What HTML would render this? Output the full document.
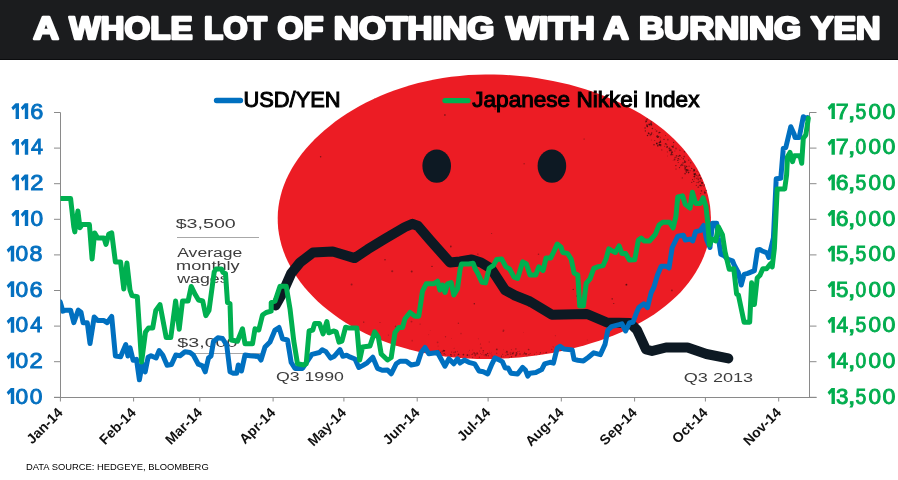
<!DOCTYPE html><html><head><meta charset="utf-8"><style>html,body{margin:0;padding:0;background:#fff;width:898px;height:480px;overflow:hidden}svg{display:block;will-change:transform}text{font-family:"Liberation Sans",sans-serif}</style></head><body>
<svg width="898" height="480" viewBox="0 0 898 480">
<rect x="0" y="0" width="898" height="480" fill="#fff"/>
<rect x="0" y="0" width="898" height="59" fill="#1b1c1e"/><rect x="0" y="59" width="898" height="1" fill="#0b0c0e"/>
<text x="33.32" y="38.9" font-size="31" font-weight="bold" fill="#fff" stroke="#fff" stroke-width="2.40" stroke-linejoin="round" textLength="25.62" lengthAdjust="spacingAndGlyphs">A</text>
<text x="69.27" y="38.9" font-size="31" font-weight="bold" fill="#fff" stroke="#fff" stroke-width="2.40" stroke-linejoin="round" textLength="123.33" lengthAdjust="spacingAndGlyphs">WHOLE</text>
<text x="204.10" y="38.9" font-size="31" font-weight="bold" fill="#fff" stroke="#fff" stroke-width="2.40" stroke-linejoin="round" textLength="62.74" lengthAdjust="spacingAndGlyphs">LOT</text>
<text x="277.55" y="38.9" font-size="31" font-weight="bold" fill="#fff" stroke="#fff" stroke-width="2.40" stroke-linejoin="round" textLength="45.86" lengthAdjust="spacingAndGlyphs">OF</text>
<text x="333.87" y="38.9" font-size="31" font-weight="bold" fill="#fff" stroke="#fff" stroke-width="2.40" stroke-linejoin="round" textLength="160.49" lengthAdjust="spacingAndGlyphs">NOTHING</text>
<text x="505.97" y="38.9" font-size="31" font-weight="bold" fill="#fff" stroke="#fff" stroke-width="2.40" stroke-linejoin="round" textLength="88.78" lengthAdjust="spacingAndGlyphs">WITH</text>
<text x="603.63" y="38.9" font-size="31" font-weight="bold" fill="#fff" stroke="#fff" stroke-width="2.40" stroke-linejoin="round" textLength="25.30" lengthAdjust="spacingAndGlyphs">A</text>
<text x="638.98" y="38.9" font-size="31" font-weight="bold" fill="#fff" stroke="#fff" stroke-width="2.40" stroke-linejoin="round" textLength="162.08" lengthAdjust="spacingAndGlyphs">BURNING</text>
<text x="810.82" y="38.9" font-size="31" font-weight="bold" fill="#fff" stroke="#fff" stroke-width="2.40" stroke-linejoin="round" textLength="69.77" lengthAdjust="spacingAndGlyphs">YEN</text>
<path d="M710.9 217.7 L710.9 223.2 L710.5 228.8 L709.8 234.4 L708.8 239.9 L707.5 245.4 L705.8 250.9 L703.8 256.4 L701.5 261.8 L698.8 267.1 L695.8 272.3 L692.4 277.5 L688.8 282.6 L684.7 287.5 L680.4 292.4 L675.7 297.1 L670.7 301.6 L665.4 306.1 L659.8 310.3 L654.0 314.4 L647.9 318.3 L641.5 322.1 L635.0 325.6 L628.2 329.0 L621.2 332.2 L614.1 335.2 L606.8 338.0 L599.3 340.7 L591.8 343.1 L584.1 345.4 L576.3 347.6 L568.4 349.5 L560.4 351.3 L552.3 352.9 L544.2 354.3 L536.0 355.5 L527.7 356.6 L519.3 357.4 L510.9 358.1 L502.5 358.6 L494.0 358.9 L485.6 359.0 L477.1 358.9 L468.6 358.5 L460.1 358.0 L451.6 357.2 L443.2 356.2 L434.9 354.9 L426.6 353.4 L418.4 351.7 L410.4 349.8 L402.5 347.6 L394.7 345.2 L387.1 342.6 L379.7 339.8 L372.4 336.7 L365.4 333.5 L358.6 330.1 L352.0 326.4 L345.7 322.7 L339.6 318.7 L333.8 314.6 L328.2 310.3 L322.9 305.9 L317.8 301.4 L313.1 296.8 L308.6 292.0 L304.4 287.2 L300.5 282.2 L296.8 277.1 L293.5 272.0 L290.5 266.8 L287.8 261.5 L285.4 256.2 L283.3 250.8 L281.5 245.3 L280.1 239.8 L279.0 234.3 L278.2 228.8 L277.8 223.2 L277.7 217.7 L277.9 212.1 L278.5 206.6 L279.4 201.1 L280.7 195.6 L282.2 190.1 L284.1 184.7 L286.3 179.3 L288.9 174.1 L291.7 168.8 L294.8 163.7 L298.3 158.6 L302.0 153.6 L305.9 148.8 L310.2 144.0 L314.7 139.3 L319.5 134.7 L324.5 130.2 L329.8 125.9 L335.3 121.6 L341.0 117.5 L347.0 113.6 L353.2 109.8 L359.6 106.1 L366.2 102.6 L373.1 99.2 L380.1 96.1 L387.4 93.1 L394.8 90.3 L402.4 87.7 L410.2 85.3 L418.2 83.1 L426.3 81.2 L434.5 79.5 L442.8 78.1 L451.2 76.8 L459.7 75.9 L468.3 75.1 L476.8 74.7 L485.4 74.4 L494.0 74.4 L502.6 74.7 L511.2 75.2 L519.7 75.9 L528.1 76.8 L536.5 78.0 L544.8 79.4 L553.0 80.9 L561.1 82.7 L569.1 84.6 L576.9 86.8 L584.6 89.1 L592.2 91.6 L599.7 94.3 L606.9 97.1 L614.1 100.2 L621.0 103.3 L627.8 106.7 L634.4 110.2 L640.7 113.8 L646.9 117.7 L652.8 121.6 L658.5 125.8 L664.0 130.0 L669.1 134.5 L674.0 139.0 L678.6 143.7 L683.0 148.5 L687.0 153.4 L690.7 158.4 L694.1 163.5 L697.2 168.6 L700.0 173.9 L702.5 179.2 L704.6 184.6 L706.4 190.0 L708.0 195.5 L709.2 201.0 L710.1 206.5 L710.6 212.1 Z" fill="#ec1c24"/>
<clipPath id="bc"><path d="M710.9 217.7 L710.9 223.2 L710.5 228.8 L709.8 234.4 L708.8 239.9 L707.5 245.4 L705.8 250.9 L703.8 256.4 L701.5 261.8 L698.8 267.1 L695.8 272.3 L692.4 277.5 L688.8 282.6 L684.7 287.5 L680.4 292.4 L675.7 297.1 L670.7 301.6 L665.4 306.1 L659.8 310.3 L654.0 314.4 L647.9 318.3 L641.5 322.1 L635.0 325.6 L628.2 329.0 L621.2 332.2 L614.1 335.2 L606.8 338.0 L599.3 340.7 L591.8 343.1 L584.1 345.4 L576.3 347.6 L568.4 349.5 L560.4 351.3 L552.3 352.9 L544.2 354.3 L536.0 355.5 L527.7 356.6 L519.3 357.4 L510.9 358.1 L502.5 358.6 L494.0 358.9 L485.6 359.0 L477.1 358.9 L468.6 358.5 L460.1 358.0 L451.6 357.2 L443.2 356.2 L434.9 354.9 L426.6 353.4 L418.4 351.7 L410.4 349.8 L402.5 347.6 L394.7 345.2 L387.1 342.6 L379.7 339.8 L372.4 336.7 L365.4 333.5 L358.6 330.1 L352.0 326.4 L345.7 322.7 L339.6 318.7 L333.8 314.6 L328.2 310.3 L322.9 305.9 L317.8 301.4 L313.1 296.8 L308.6 292.0 L304.4 287.2 L300.5 282.2 L296.8 277.1 L293.5 272.0 L290.5 266.8 L287.8 261.5 L285.4 256.2 L283.3 250.8 L281.5 245.3 L280.1 239.8 L279.0 234.3 L278.2 228.8 L277.8 223.2 L277.7 217.7 L277.9 212.1 L278.5 206.6 L279.4 201.1 L280.7 195.6 L282.2 190.1 L284.1 184.7 L286.3 179.3 L288.9 174.1 L291.7 168.8 L294.8 163.7 L298.3 158.6 L302.0 153.6 L305.9 148.8 L310.2 144.0 L314.7 139.3 L319.5 134.7 L324.5 130.2 L329.8 125.9 L335.3 121.6 L341.0 117.5 L347.0 113.6 L353.2 109.8 L359.6 106.1 L366.2 102.6 L373.1 99.2 L380.1 96.1 L387.4 93.1 L394.8 90.3 L402.4 87.7 L410.2 85.3 L418.2 83.1 L426.3 81.2 L434.5 79.5 L442.8 78.1 L451.2 76.8 L459.7 75.9 L468.3 75.1 L476.8 74.7 L485.4 74.4 L494.0 74.4 L502.6 74.7 L511.2 75.2 L519.7 75.9 L528.1 76.8 L536.5 78.0 L544.8 79.4 L553.0 80.9 L561.1 82.7 L569.1 84.6 L576.9 86.8 L584.6 89.1 L592.2 91.6 L599.7 94.3 L606.9 97.1 L614.1 100.2 L621.0 103.3 L627.8 106.7 L634.4 110.2 L640.7 113.8 L646.9 117.7 L652.8 121.6 L658.5 125.8 L664.0 130.0 L669.1 134.5 L674.0 139.0 L678.6 143.7 L683.0 148.5 L687.0 153.4 L690.7 158.4 L694.1 163.5 L697.2 168.6 L700.0 173.9 L702.5 179.2 L704.6 184.6 L706.4 190.0 L708.0 195.5 L709.2 201.0 L710.1 206.5 L710.6 212.1 Z"/></clipPath><g clip-path="url(#bc)"><circle cx="485.1" cy="355.9" r="0.39" fill="#1a0a0a" fill-opacity="0.44"/><circle cx="492.2" cy="356.6" r="0.38" fill="#1a0a0a" fill-opacity="0.43"/><circle cx="436.4" cy="352.3" r="0.40" fill="#1a0a0a" fill-opacity="0.40"/><circle cx="570.6" cy="352.2" r="0.42" fill="#1a0a0a" fill-opacity="0.33"/><circle cx="536.7" cy="356.0" r="0.57" fill="#1a0a0a" fill-opacity="0.59"/><circle cx="437.9" cy="352.2" r="0.82" fill="#1a0a0a" fill-opacity="0.35"/><circle cx="454.5" cy="355.0" r="0.80" fill="#1a0a0a" fill-opacity="0.31"/><circle cx="528.9" cy="354.8" r="0.70" fill="#1a0a0a" fill-opacity="0.38"/><circle cx="523.1" cy="354.3" r="0.46" fill="#1a0a0a" fill-opacity="0.49"/><circle cx="502.7" cy="354.2" r="0.52" fill="#1a0a0a" fill-opacity="0.45"/><circle cx="507.0" cy="352.7" r="0.73" fill="#1a0a0a" fill-opacity="0.34"/><circle cx="527.7" cy="357.3" r="0.64" fill="#1a0a0a" fill-opacity="0.56"/><circle cx="554.0" cy="351.2" r="0.41" fill="#1a0a0a" fill-opacity="0.40"/><circle cx="558.7" cy="358.4" r="0.43" fill="#1a0a0a" fill-opacity="0.42"/><circle cx="436.7" cy="351.2" r="0.67" fill="#1a0a0a" fill-opacity="0.56"/><circle cx="483.3" cy="350.7" r="0.73" fill="#1a0a0a" fill-opacity="0.46"/><circle cx="528.6" cy="349.5" r="0.87" fill="#1a0a0a" fill-opacity="0.42"/><circle cx="542.9" cy="354.2" r="0.38" fill="#1a0a0a" fill-opacity="0.50"/><circle cx="540.0" cy="357.3" r="0.51" fill="#1a0a0a" fill-opacity="0.39"/><circle cx="543.7" cy="352.9" r="0.36" fill="#1a0a0a" fill-opacity="0.41"/><circle cx="458.6" cy="354.2" r="0.77" fill="#1a0a0a" fill-opacity="0.30"/><circle cx="472.1" cy="354.4" r="0.57" fill="#1a0a0a" fill-opacity="0.55"/><circle cx="443.7" cy="350.7" r="0.84" fill="#1a0a0a" fill-opacity="0.54"/><circle cx="576.9" cy="352.4" r="0.50" fill="#1a0a0a" fill-opacity="0.40"/><circle cx="491.0" cy="358.1" r="0.43" fill="#1a0a0a" fill-opacity="0.31"/><circle cx="469.4" cy="350.2" r="0.48" fill="#1a0a0a" fill-opacity="0.42"/><circle cx="530.2" cy="353.5" r="0.58" fill="#1a0a0a" fill-opacity="0.38"/><circle cx="526.3" cy="353.8" r="0.87" fill="#1a0a0a" fill-opacity="0.49"/><circle cx="517.6" cy="351.3" r="0.38" fill="#1a0a0a" fill-opacity="0.56"/><circle cx="562.6" cy="350.0" r="0.83" fill="#1a0a0a" fill-opacity="0.53"/><circle cx="496.7" cy="353.2" r="0.70" fill="#1a0a0a" fill-opacity="0.27"/><circle cx="441.4" cy="353.8" r="0.46" fill="#1a0a0a" fill-opacity="0.31"/><circle cx="487.8" cy="354.0" r="0.43" fill="#1a0a0a" fill-opacity="0.29"/><circle cx="491.8" cy="354.0" r="0.36" fill="#1a0a0a" fill-opacity="0.56"/><circle cx="534.4" cy="354.3" r="0.54" fill="#1a0a0a" fill-opacity="0.38"/><circle cx="450.9" cy="354.8" r="0.82" fill="#1a0a0a" fill-opacity="0.60"/><circle cx="509.2" cy="353.0" r="0.41" fill="#1a0a0a" fill-opacity="0.37"/><circle cx="475.0" cy="354.0" r="0.81" fill="#1a0a0a" fill-opacity="0.31"/><circle cx="433.9" cy="355.5" r="0.43" fill="#1a0a0a" fill-opacity="0.44"/><circle cx="434.6" cy="352.2" r="0.64" fill="#1a0a0a" fill-opacity="0.59"/><circle cx="576.8" cy="350.9" r="0.55" fill="#1a0a0a" fill-opacity="0.31"/><circle cx="561.2" cy="350.7" r="0.64" fill="#1a0a0a" fill-opacity="0.52"/><circle cx="486.0" cy="354.7" r="0.89" fill="#1a0a0a" fill-opacity="0.55"/><circle cx="567.0" cy="356.0" r="0.80" fill="#1a0a0a" fill-opacity="0.51"/><circle cx="468.5" cy="351.8" r="0.37" fill="#1a0a0a" fill-opacity="0.26"/><circle cx="477.5" cy="353.7" r="0.49" fill="#1a0a0a" fill-opacity="0.49"/><circle cx="592.6" cy="345.6" r="0.89" fill="#1a0a0a" fill-opacity="0.58"/><circle cx="492.0" cy="355.7" r="0.47" fill="#1a0a0a" fill-opacity="0.33"/><circle cx="463.4" cy="354.6" r="0.85" fill="#1a0a0a" fill-opacity="0.54"/><circle cx="511.5" cy="356.8" r="0.71" fill="#1a0a0a" fill-opacity="0.53"/><circle cx="444.4" cy="350.7" r="0.78" fill="#1a0a0a" fill-opacity="0.51"/><circle cx="511.3" cy="349.8" r="0.45" fill="#1a0a0a" fill-opacity="0.53"/><circle cx="486.5" cy="355.8" r="0.57" fill="#1a0a0a" fill-opacity="0.39"/><circle cx="591.0" cy="345.1" r="0.75" fill="#1a0a0a" fill-opacity="0.31"/><circle cx="451.6" cy="356.3" r="0.79" fill="#1a0a0a" fill-opacity="0.30"/><circle cx="570.5" cy="355.7" r="0.89" fill="#1a0a0a" fill-opacity="0.48"/><circle cx="489.6" cy="352.9" r="0.36" fill="#1a0a0a" fill-opacity="0.59"/><circle cx="540.4" cy="352.8" r="0.64" fill="#1a0a0a" fill-opacity="0.58"/><circle cx="503.7" cy="356.8" r="0.47" fill="#1a0a0a" fill-opacity="0.34"/><circle cx="479.8" cy="351.0" r="0.48" fill="#1a0a0a" fill-opacity="0.46"/><circle cx="474.1" cy="352.9" r="0.85" fill="#1a0a0a" fill-opacity="0.37"/><circle cx="507.9" cy="354.5" r="0.67" fill="#1a0a0a" fill-opacity="0.57"/><circle cx="501.5" cy="356.2" r="0.64" fill="#1a0a0a" fill-opacity="0.43"/><circle cx="433.2" cy="351.6" r="0.59" fill="#1a0a0a" fill-opacity="0.31"/><circle cx="430.7" cy="353.2" r="0.61" fill="#1a0a0a" fill-opacity="0.50"/><circle cx="524.6" cy="352.3" r="0.53" fill="#1a0a0a" fill-opacity="0.43"/><circle cx="524.4" cy="353.8" r="0.66" fill="#1a0a0a" fill-opacity="0.34"/><circle cx="477.1" cy="352.9" r="0.77" fill="#1a0a0a" fill-opacity="0.43"/><circle cx="525.5" cy="353.9" r="0.59" fill="#1a0a0a" fill-opacity="0.46"/><circle cx="515.9" cy="348.9" r="0.63" fill="#1a0a0a" fill-opacity="0.49"/><circle cx="506.9" cy="351.5" r="0.87" fill="#1a0a0a" fill-opacity="0.49"/><circle cx="579.0" cy="350.9" r="0.87" fill="#1a0a0a" fill-opacity="0.34"/><circle cx="525.1" cy="357.5" r="0.43" fill="#1a0a0a" fill-opacity="0.29"/><circle cx="505.2" cy="352.5" r="0.39" fill="#1a0a0a" fill-opacity="0.33"/><circle cx="442.4" cy="351.4" r="0.84" fill="#1a0a0a" fill-opacity="0.30"/><circle cx="551.7" cy="349.4" r="0.71" fill="#1a0a0a" fill-opacity="0.30"/><circle cx="580.1" cy="352.8" r="0.87" fill="#1a0a0a" fill-opacity="0.39"/><circle cx="512.8" cy="353.5" r="0.89" fill="#1a0a0a" fill-opacity="0.54"/><circle cx="457.4" cy="351.2" r="0.54" fill="#1a0a0a" fill-opacity="0.32"/><circle cx="484.1" cy="355.1" r="0.75" fill="#1a0a0a" fill-opacity="0.26"/><circle cx="524.2" cy="353.2" r="0.53" fill="#1a0a0a" fill-opacity="0.47"/><circle cx="517.1" cy="353.9" r="0.39" fill="#1a0a0a" fill-opacity="0.59"/><circle cx="564.0" cy="353.2" r="0.50" fill="#1a0a0a" fill-opacity="0.26"/><circle cx="562.4" cy="352.1" r="0.50" fill="#1a0a0a" fill-opacity="0.30"/><circle cx="501.8" cy="357.4" r="0.49" fill="#1a0a0a" fill-opacity="0.30"/><circle cx="586.3" cy="348.8" r="0.66" fill="#1a0a0a" fill-opacity="0.50"/><circle cx="445.2" cy="356.5" r="0.58" fill="#1a0a0a" fill-opacity="0.28"/><circle cx="589.5" cy="351.9" r="0.70" fill="#1a0a0a" fill-opacity="0.53"/><circle cx="444.2" cy="353.8" r="0.82" fill="#1a0a0a" fill-opacity="0.41"/><circle cx="487.7" cy="353.4" r="0.65" fill="#1a0a0a" fill-opacity="0.57"/><circle cx="475.5" cy="355.8" r="0.48" fill="#1a0a0a" fill-opacity="0.29"/><circle cx="457.4" cy="355.6" r="0.38" fill="#1a0a0a" fill-opacity="0.32"/><circle cx="483.0" cy="352.7" r="0.51" fill="#1a0a0a" fill-opacity="0.43"/><circle cx="460.2" cy="357.2" r="0.54" fill="#1a0a0a" fill-opacity="0.26"/><circle cx="472.6" cy="357.5" r="0.65" fill="#1a0a0a" fill-opacity="0.32"/><circle cx="510.7" cy="354.2" r="0.86" fill="#1a0a0a" fill-opacity="0.29"/><circle cx="569.2" cy="349.6" r="0.81" fill="#1a0a0a" fill-opacity="0.39"/><circle cx="516.1" cy="354.8" r="0.73" fill="#1a0a0a" fill-opacity="0.59"/><circle cx="488.3" cy="355.7" r="0.70" fill="#1a0a0a" fill-opacity="0.39"/><circle cx="489.1" cy="351.0" r="0.38" fill="#1a0a0a" fill-opacity="0.30"/><circle cx="442.0" cy="353.1" r="0.44" fill="#1a0a0a" fill-opacity="0.28"/><circle cx="573.0" cy="350.0" r="0.83" fill="#1a0a0a" fill-opacity="0.48"/><circle cx="477.9" cy="354.0" r="0.60" fill="#1a0a0a" fill-opacity="0.31"/><circle cx="505.8" cy="355.7" r="0.49" fill="#1a0a0a" fill-opacity="0.59"/><circle cx="595.3" cy="348.8" r="0.88" fill="#1a0a0a" fill-opacity="0.36"/><circle cx="490.6" cy="353.5" r="0.35" fill="#1a0a0a" fill-opacity="0.38"/><circle cx="510.7" cy="352.4" r="0.63" fill="#1a0a0a" fill-opacity="0.25"/><circle cx="474.9" cy="353.9" r="0.40" fill="#1a0a0a" fill-opacity="0.39"/><circle cx="437.1" cy="354.9" r="0.48" fill="#1a0a0a" fill-opacity="0.45"/><circle cx="520.0" cy="354.0" r="0.76" fill="#1a0a0a" fill-opacity="0.48"/><circle cx="551.7" cy="354.3" r="0.53" fill="#1a0a0a" fill-opacity="0.59"/><circle cx="455.4" cy="352.1" r="0.75" fill="#1a0a0a" fill-opacity="0.48"/><circle cx="437.4" cy="355.5" r="0.70" fill="#1a0a0a" fill-opacity="0.51"/><circle cx="568.1" cy="348.0" r="0.43" fill="#1a0a0a" fill-opacity="0.43"/><circle cx="515.7" cy="355.8" r="0.80" fill="#1a0a0a" fill-opacity="0.45"/><circle cx="581.8" cy="347.8" r="0.73" fill="#1a0a0a" fill-opacity="0.49"/><circle cx="469.1" cy="355.0" r="0.55" fill="#1a0a0a" fill-opacity="0.29"/><circle cx="572.1" cy="352.0" r="0.66" fill="#1a0a0a" fill-opacity="0.47"/><circle cx="536.5" cy="352.2" r="0.35" fill="#1a0a0a" fill-opacity="0.53"/><circle cx="557.2" cy="350.2" r="0.63" fill="#1a0a0a" fill-opacity="0.44"/><circle cx="542.1" cy="356.4" r="0.49" fill="#1a0a0a" fill-opacity="0.28"/><circle cx="475.1" cy="355.4" r="0.75" fill="#1a0a0a" fill-opacity="0.32"/><circle cx="555.8" cy="355.1" r="0.56" fill="#1a0a0a" fill-opacity="0.42"/><circle cx="546.2" cy="352.6" r="0.77" fill="#1a0a0a" fill-opacity="0.47"/><circle cx="539.3" cy="354.3" r="0.49" fill="#1a0a0a" fill-opacity="0.51"/><circle cx="481.8" cy="354.6" r="0.66" fill="#1a0a0a" fill-opacity="0.25"/><circle cx="440.3" cy="352.8" r="0.73" fill="#1a0a0a" fill-opacity="0.49"/><circle cx="479.4" cy="357.2" r="0.63" fill="#1a0a0a" fill-opacity="0.41"/><circle cx="509.3" cy="357.3" r="0.46" fill="#1a0a0a" fill-opacity="0.59"/><circle cx="589.2" cy="353.9" r="0.36" fill="#1a0a0a" fill-opacity="0.41"/><circle cx="569.4" cy="354.3" r="0.50" fill="#1a0a0a" fill-opacity="0.32"/><circle cx="590.7" cy="350.2" r="0.47" fill="#1a0a0a" fill-opacity="0.45"/><circle cx="454.1" cy="348.2" r="0.42" fill="#1a0a0a" fill-opacity="0.54"/><circle cx="516.5" cy="352.9" r="0.84" fill="#1a0a0a" fill-opacity="0.50"/><circle cx="469.3" cy="355.9" r="0.36" fill="#1a0a0a" fill-opacity="0.25"/><circle cx="513.6" cy="352.3" r="0.60" fill="#1a0a0a" fill-opacity="0.36"/><circle cx="453.9" cy="352.5" r="0.81" fill="#1a0a0a" fill-opacity="0.25"/><circle cx="557.6" cy="354.1" r="0.81" fill="#1a0a0a" fill-opacity="0.29"/><circle cx="587.5" cy="349.8" r="0.51" fill="#1a0a0a" fill-opacity="0.38"/><circle cx="496.8" cy="349.4" r="0.90" fill="#1a0a0a" fill-opacity="0.46"/><circle cx="491.3" cy="352.4" r="0.38" fill="#1a0a0a" fill-opacity="0.29"/><circle cx="571.9" cy="352.6" r="0.51" fill="#1a0a0a" fill-opacity="0.58"/><circle cx="472.4" cy="353.6" r="0.45" fill="#1a0a0a" fill-opacity="0.38"/><circle cx="592.5" cy="353.1" r="0.84" fill="#1a0a0a" fill-opacity="0.53"/><circle cx="537.3" cy="357.7" r="0.65" fill="#1a0a0a" fill-opacity="0.50"/><circle cx="438.4" cy="350.4" r="0.75" fill="#1a0a0a" fill-opacity="0.41"/><circle cx="558.0" cy="351.4" r="0.38" fill="#1a0a0a" fill-opacity="0.57"/><circle cx="451.6" cy="352.1" r="0.61" fill="#1a0a0a" fill-opacity="0.37"/><circle cx="480.6" cy="353.6" r="0.49" fill="#1a0a0a" fill-opacity="0.48"/><circle cx="481.1" cy="348.0" r="0.66" fill="#1a0a0a" fill-opacity="0.39"/><circle cx="458.4" cy="354.5" r="0.85" fill="#1a0a0a" fill-opacity="0.42"/><circle cx="467.4" cy="355.1" r="0.85" fill="#1a0a0a" fill-opacity="0.60"/><circle cx="506.5" cy="354.8" r="0.40" fill="#1a0a0a" fill-opacity="0.37"/><circle cx="445.5" cy="354.5" r="0.48" fill="#1a0a0a" fill-opacity="0.34"/><circle cx="526.8" cy="356.3" r="0.58" fill="#1a0a0a" fill-opacity="0.39"/><circle cx="519.1" cy="351.3" r="0.56" fill="#1a0a0a" fill-opacity="0.37"/><circle cx="440.6" cy="352.2" r="0.42" fill="#1a0a0a" fill-opacity="0.43"/><circle cx="537.0" cy="358.9" r="0.82" fill="#1a0a0a" fill-opacity="0.33"/><circle cx="476.1" cy="354.0" r="0.60" fill="#1a0a0a" fill-opacity="0.58"/><circle cx="574.3" cy="353.9" r="0.83" fill="#1a0a0a" fill-opacity="0.26"/><circle cx="388.4" cy="335.1" r="0.61" fill="#1a0a0a" fill-opacity="0.27"/><circle cx="380.0" cy="322.5" r="0.57" fill="#1a0a0a" fill-opacity="0.34"/><circle cx="594.7" cy="353.4" r="0.49" fill="#1a0a0a" fill-opacity="0.17"/><circle cx="420.1" cy="324.1" r="0.64" fill="#1a0a0a" fill-opacity="0.29"/><circle cx="624.8" cy="336.7" r="0.77" fill="#1a0a0a" fill-opacity="0.24"/><circle cx="523.4" cy="332.5" r="0.37" fill="#1a0a0a" fill-opacity="0.31"/><circle cx="440.5" cy="352.1" r="0.52" fill="#1a0a0a" fill-opacity="0.18"/><circle cx="445.5" cy="336.7" r="0.70" fill="#1a0a0a" fill-opacity="0.29"/><circle cx="409.2" cy="349.3" r="0.67" fill="#1a0a0a" fill-opacity="0.23"/><circle cx="438.1" cy="346.1" r="0.68" fill="#1a0a0a" fill-opacity="0.15"/><circle cx="458.4" cy="323.3" r="0.70" fill="#1a0a0a" fill-opacity="0.33"/><circle cx="503.6" cy="349.8" r="0.48" fill="#1a0a0a" fill-opacity="0.20"/><circle cx="629.8" cy="336.6" r="0.36" fill="#1a0a0a" fill-opacity="0.25"/><circle cx="555.4" cy="335.7" r="0.58" fill="#1a0a0a" fill-opacity="0.20"/><circle cx="553.5" cy="347.4" r="0.37" fill="#1a0a0a" fill-opacity="0.22"/><circle cx="489.3" cy="341.9" r="0.73" fill="#1a0a0a" fill-opacity="0.19"/><circle cx="587.2" cy="340.0" r="0.46" fill="#1a0a0a" fill-opacity="0.34"/><circle cx="461.0" cy="333.6" r="0.80" fill="#1a0a0a" fill-opacity="0.20"/><circle cx="437.6" cy="342.3" r="0.87" fill="#1a0a0a" fill-opacity="0.25"/><circle cx="428.7" cy="334.8" r="0.47" fill="#1a0a0a" fill-opacity="0.23"/><circle cx="553.0" cy="346.6" r="0.57" fill="#1a0a0a" fill-opacity="0.19"/><circle cx="633.3" cy="336.9" r="0.43" fill="#1a0a0a" fill-opacity="0.16"/><circle cx="395.6" cy="326.4" r="0.84" fill="#1a0a0a" fill-opacity="0.30"/><circle cx="639.4" cy="348.7" r="0.86" fill="#1a0a0a" fill-opacity="0.22"/><circle cx="428.2" cy="353.6" r="0.37" fill="#1a0a0a" fill-opacity="0.28"/><circle cx="478.4" cy="338.7" r="0.56" fill="#1a0a0a" fill-opacity="0.22"/><circle cx="424.0" cy="347.7" r="0.54" fill="#1a0a0a" fill-opacity="0.34"/><circle cx="412.2" cy="340.7" r="0.88" fill="#1a0a0a" fill-opacity="0.19"/><circle cx="472.7" cy="350.1" r="0.59" fill="#1a0a0a" fill-opacity="0.16"/><circle cx="503.1" cy="331.5" r="0.55" fill="#1a0a0a" fill-opacity="0.33"/><circle cx="430.2" cy="330.3" r="0.37" fill="#1a0a0a" fill-opacity="0.23"/><circle cx="591.1" cy="353.3" r="0.77" fill="#1a0a0a" fill-opacity="0.16"/><circle cx="389.1" cy="356.1" r="0.49" fill="#1a0a0a" fill-opacity="0.30"/><circle cx="613.6" cy="346.2" r="0.54" fill="#1a0a0a" fill-opacity="0.20"/><circle cx="629.0" cy="333.9" r="0.74" fill="#1a0a0a" fill-opacity="0.21"/><circle cx="451.7" cy="338.4" r="0.35" fill="#1a0a0a" fill-opacity="0.30"/><circle cx="618.3" cy="326.3" r="0.36" fill="#1a0a0a" fill-opacity="0.20"/><circle cx="503.5" cy="330.5" r="0.88" fill="#1a0a0a" fill-opacity="0.34"/><circle cx="480.5" cy="344.0" r="0.62" fill="#1a0a0a" fill-opacity="0.34"/><circle cx="427.6" cy="349.9" r="0.79" fill="#1a0a0a" fill-opacity="0.30"/><circle cx="696.8" cy="178.0" r="0.60" fill="#1a0a0a" fill-opacity="0.43"/><circle cx="667.8" cy="139.7" r="0.87" fill="#1a0a0a" fill-opacity="0.33"/><circle cx="657.4" cy="137.5" r="0.44" fill="#1a0a0a" fill-opacity="0.31"/><circle cx="679.8" cy="155.3" r="0.60" fill="#1a0a0a" fill-opacity="0.69"/><circle cx="700.7" cy="185.4" r="0.45" fill="#1a0a0a" fill-opacity="0.34"/><circle cx="676.4" cy="156.0" r="0.83" fill="#1a0a0a" fill-opacity="0.48"/><circle cx="659.8" cy="132.5" r="0.80" fill="#1a0a0a" fill-opacity="0.60"/><circle cx="698.4" cy="182.5" r="0.80" fill="#1a0a0a" fill-opacity="0.35"/><circle cx="698.0" cy="175.9" r="0.62" fill="#1a0a0a" fill-opacity="0.60"/><circle cx="657.5" cy="145.0" r="0.55" fill="#1a0a0a" fill-opacity="0.40"/><circle cx="654.7" cy="140.5" r="0.60" fill="#1a0a0a" fill-opacity="0.46"/><circle cx="707.5" cy="182.3" r="0.70" fill="#1a0a0a" fill-opacity="0.39"/><circle cx="695.9" cy="165.4" r="0.46" fill="#1a0a0a" fill-opacity="0.49"/><circle cx="696.6" cy="161.5" r="0.90" fill="#1a0a0a" fill-opacity="0.67"/><circle cx="647.5" cy="126.7" r="0.51" fill="#1a0a0a" fill-opacity="0.69"/><circle cx="681.7" cy="164.7" r="0.96" fill="#1a0a0a" fill-opacity="0.45"/><circle cx="699.6" cy="175.1" r="0.87" fill="#1a0a0a" fill-opacity="0.68"/><circle cx="651.7" cy="133.1" r="0.76" fill="#1a0a0a" fill-opacity="0.55"/><circle cx="658.7" cy="136.5" r="0.52" fill="#1a0a0a" fill-opacity="0.40"/><circle cx="682.8" cy="165.2" r="0.79" fill="#1a0a0a" fill-opacity="0.38"/><circle cx="645.7" cy="121.5" r="0.51" fill="#1a0a0a" fill-opacity="0.42"/><circle cx="657.8" cy="145.8" r="0.88" fill="#1a0a0a" fill-opacity="0.52"/><circle cx="649.0" cy="133.8" r="0.73" fill="#1a0a0a" fill-opacity="0.56"/><circle cx="650.7" cy="134.3" r="0.50" fill="#1a0a0a" fill-opacity="0.58"/><circle cx="670.8" cy="149.7" r="0.97" fill="#1a0a0a" fill-opacity="0.42"/><circle cx="680.7" cy="165.7" r="0.61" fill="#1a0a0a" fill-opacity="0.47"/><circle cx="699.4" cy="185.2" r="0.52" fill="#1a0a0a" fill-opacity="0.59"/><circle cx="657.8" cy="137.7" r="0.40" fill="#1a0a0a" fill-opacity="0.66"/><circle cx="671.7" cy="154.3" r="0.93" fill="#1a0a0a" fill-opacity="0.48"/><circle cx="655.2" cy="129.7" r="0.41" fill="#1a0a0a" fill-opacity="0.52"/><circle cx="685.4" cy="167.5" r="0.77" fill="#1a0a0a" fill-opacity="0.45"/><circle cx="676.8" cy="155.4" r="0.49" fill="#1a0a0a" fill-opacity="0.41"/><circle cx="677.8" cy="160.4" r="0.69" fill="#1a0a0a" fill-opacity="0.62"/><circle cx="705.9" cy="184.6" r="0.52" fill="#1a0a0a" fill-opacity="0.35"/><circle cx="704.4" cy="191.2" r="0.43" fill="#1a0a0a" fill-opacity="0.67"/><circle cx="669.4" cy="148.4" r="0.94" fill="#1a0a0a" fill-opacity="0.55"/><circle cx="696.9" cy="182.6" r="0.53" fill="#1a0a0a" fill-opacity="0.46"/><circle cx="698.3" cy="187.2" r="0.90" fill="#1a0a0a" fill-opacity="0.37"/><circle cx="658.7" cy="132.9" r="0.63" fill="#1a0a0a" fill-opacity="0.35"/><circle cx="660.6" cy="144.8" r="0.83" fill="#1a0a0a" fill-opacity="0.66"/><circle cx="647.6" cy="118.3" r="0.42" fill="#1a0a0a" fill-opacity="0.64"/><circle cx="652.4" cy="128.6" r="0.76" fill="#1a0a0a" fill-opacity="0.52"/><circle cx="684.5" cy="162.3" r="0.75" fill="#1a0a0a" fill-opacity="0.47"/><circle cx="686.5" cy="172.4" r="0.67" fill="#1a0a0a" fill-opacity="0.48"/><circle cx="646.5" cy="121.4" r="0.54" fill="#1a0a0a" fill-opacity="0.61"/><circle cx="694.1" cy="169.4" r="0.67" fill="#1a0a0a" fill-opacity="0.37"/><circle cx="674.8" cy="157.3" r="0.66" fill="#1a0a0a" fill-opacity="0.34"/><circle cx="672.8" cy="154.8" r="0.71" fill="#1a0a0a" fill-opacity="0.32"/><circle cx="685.1" cy="173.6" r="0.87" fill="#1a0a0a" fill-opacity="0.50"/><circle cx="648.4" cy="133.2" r="0.70" fill="#1a0a0a" fill-opacity="0.45"/><circle cx="704.9" cy="192.7" r="1.00" fill="#1a0a0a" fill-opacity="0.59"/><circle cx="696.3" cy="185.3" r="0.52" fill="#1a0a0a" fill-opacity="0.69"/><circle cx="676.0" cy="168.9" r="0.50" fill="#1a0a0a" fill-opacity="0.62"/><circle cx="703.6" cy="180.0" r="0.44" fill="#1a0a0a" fill-opacity="0.44"/><circle cx="692.6" cy="179.6" r="0.56" fill="#1a0a0a" fill-opacity="0.63"/><circle cx="654.0" cy="144.8" r="0.70" fill="#1a0a0a" fill-opacity="0.67"/><circle cx="658.1" cy="137.5" r="0.59" fill="#1a0a0a" fill-opacity="0.31"/><circle cx="656.5" cy="143.6" r="0.50" fill="#1a0a0a" fill-opacity="0.67"/><circle cx="687.8" cy="170.7" r="0.87" fill="#1a0a0a" fill-opacity="0.35"/><circle cx="678.4" cy="156.2" r="0.78" fill="#1a0a0a" fill-opacity="0.44"/><circle cx="700.0" cy="172.6" r="0.93" fill="#1a0a0a" fill-opacity="0.34"/><circle cx="707.6" cy="184.9" r="0.78" fill="#1a0a0a" fill-opacity="0.46"/><circle cx="695.3" cy="173.6" r="0.75" fill="#1a0a0a" fill-opacity="0.44"/><circle cx="693.2" cy="191.4" r="0.67" fill="#1a0a0a" fill-opacity="0.37"/><circle cx="691.8" cy="182.4" r="0.55" fill="#1a0a0a" fill-opacity="0.56"/><circle cx="707.0" cy="190.3" r="0.75" fill="#1a0a0a" fill-opacity="0.57"/><circle cx="664.7" cy="146.3" r="0.49" fill="#1a0a0a" fill-opacity="0.55"/><circle cx="672.2" cy="152.2" r="0.71" fill="#1a0a0a" fill-opacity="0.66"/><circle cx="653.3" cy="134.6" r="0.41" fill="#1a0a0a" fill-opacity="0.30"/><circle cx="667.4" cy="156.0" r="0.46" fill="#1a0a0a" fill-opacity="0.44"/><circle cx="659.1" cy="132.2" r="0.52" fill="#1a0a0a" fill-opacity="0.55"/><circle cx="674.9" cy="150.9" r="0.48" fill="#1a0a0a" fill-opacity="0.67"/><circle cx="660.3" cy="141.9" r="0.78" fill="#1a0a0a" fill-opacity="0.65"/><circle cx="694.3" cy="176.4" r="0.64" fill="#1a0a0a" fill-opacity="0.41"/><circle cx="645.7" cy="121.0" r="0.61" fill="#1a0a0a" fill-opacity="0.56"/><circle cx="673.0" cy="146.9" r="0.96" fill="#1a0a0a" fill-opacity="0.59"/><circle cx="660.7" cy="142.1" r="0.72" fill="#1a0a0a" fill-opacity="0.46"/><circle cx="660.0" cy="138.9" r="0.44" fill="#1a0a0a" fill-opacity="0.61"/><circle cx="645.8" cy="112.2" r="0.49" fill="#1a0a0a" fill-opacity="0.38"/><circle cx="683.3" cy="158.8" r="0.70" fill="#1a0a0a" fill-opacity="0.56"/><circle cx="696.2" cy="178.6" r="0.58" fill="#1a0a0a" fill-opacity="0.32"/><circle cx="701.0" cy="185.6" r="0.87" fill="#1a0a0a" fill-opacity="0.59"/><circle cx="645.4" cy="130.9" r="0.68" fill="#1a0a0a" fill-opacity="0.60"/><circle cx="673.5" cy="145.3" r="0.54" fill="#1a0a0a" fill-opacity="0.34"/><circle cx="659.6" cy="144.9" r="0.85" fill="#1a0a0a" fill-opacity="0.58"/><circle cx="698.3" cy="179.6" r="0.83" fill="#1a0a0a" fill-opacity="0.41"/><circle cx="679.9" cy="150.2" r="0.71" fill="#1a0a0a" fill-opacity="0.41"/><circle cx="685.4" cy="169.6" r="0.98" fill="#1a0a0a" fill-opacity="0.39"/><circle cx="700.4" cy="185.1" r="0.54" fill="#1a0a0a" fill-opacity="0.60"/><circle cx="704.5" cy="185.0" r="0.85" fill="#1a0a0a" fill-opacity="0.43"/><circle cx="700.5" cy="178.3" r="0.94" fill="#1a0a0a" fill-opacity="0.55"/><circle cx="688.6" cy="172.6" r="0.80" fill="#1a0a0a" fill-opacity="0.69"/><circle cx="674.6" cy="159.5" r="0.91" fill="#1a0a0a" fill-opacity="0.47"/><circle cx="690.7" cy="162.8" r="0.74" fill="#1a0a0a" fill-opacity="0.42"/><circle cx="658.4" cy="136.6" r="0.95" fill="#1a0a0a" fill-opacity="0.36"/><circle cx="646.7" cy="125.0" r="0.46" fill="#1a0a0a" fill-opacity="0.67"/><circle cx="666.7" cy="147.6" r="0.42" fill="#1a0a0a" fill-opacity="0.58"/><circle cx="684.9" cy="166.1" r="0.82" fill="#1a0a0a" fill-opacity="0.59"/><circle cx="649.1" cy="124.3" r="0.89" fill="#1a0a0a" fill-opacity="0.63"/><circle cx="701.2" cy="178.1" r="0.44" fill="#1a0a0a" fill-opacity="0.65"/><circle cx="702.6" cy="185.3" r="0.52" fill="#1a0a0a" fill-opacity="0.34"/><circle cx="647.2" cy="126.2" r="0.91" fill="#1a0a0a" fill-opacity="0.62"/><circle cx="685.0" cy="168.8" r="0.57" fill="#1a0a0a" fill-opacity="0.34"/><circle cx="651.2" cy="123.6" r="0.85" fill="#1a0a0a" fill-opacity="0.38"/><circle cx="665.1" cy="144.0" r="0.55" fill="#1a0a0a" fill-opacity="0.41"/><circle cx="690.1" cy="170.7" r="0.62" fill="#1a0a0a" fill-opacity="0.43"/><circle cx="705.7" cy="174.0" r="0.77" fill="#1a0a0a" fill-opacity="0.31"/><circle cx="671.0" cy="150.7" r="0.66" fill="#1a0a0a" fill-opacity="0.61"/><circle cx="666.8" cy="144.8" r="0.53" fill="#1a0a0a" fill-opacity="0.64"/><circle cx="650.7" cy="123.6" r="0.89" fill="#1a0a0a" fill-opacity="0.37"/><circle cx="645.1" cy="128.1" r="0.99" fill="#1a0a0a" fill-opacity="0.30"/><circle cx="675.9" cy="165.6" r="0.69" fill="#1a0a0a" fill-opacity="0.62"/><circle cx="656.6" cy="131.1" r="0.90" fill="#1a0a0a" fill-opacity="0.40"/><circle cx="704.5" cy="184.7" r="0.57" fill="#1a0a0a" fill-opacity="0.39"/><circle cx="689.1" cy="166.2" r="0.78" fill="#1a0a0a" fill-opacity="0.33"/><circle cx="694.6" cy="174.7" r="0.82" fill="#1a0a0a" fill-opacity="0.61"/><circle cx="684.6" cy="160.8" r="0.64" fill="#1a0a0a" fill-opacity="0.66"/><circle cx="650.4" cy="135.2" r="0.93" fill="#1a0a0a" fill-opacity="0.31"/><circle cx="658.0" cy="136.9" r="0.70" fill="#1a0a0a" fill-opacity="0.45"/><circle cx="700.7" cy="193.6" r="0.54" fill="#1a0a0a" fill-opacity="0.48"/><circle cx="678.5" cy="158.8" r="0.79" fill="#1a0a0a" fill-opacity="0.44"/><circle cx="665.6" cy="135.5" r="0.49" fill="#1a0a0a" fill-opacity="0.64"/><circle cx="686.7" cy="166.5" r="0.66" fill="#1a0a0a" fill-opacity="0.61"/><circle cx="681.5" cy="157.8" r="0.48" fill="#1a0a0a" fill-opacity="0.48"/><circle cx="700.8" cy="181.1" r="0.58" fill="#1a0a0a" fill-opacity="0.58"/><circle cx="698.2" cy="182.1" r="0.49" fill="#1a0a0a" fill-opacity="0.36"/><circle cx="660.6" cy="137.2" r="0.50" fill="#1a0a0a" fill-opacity="0.43"/><circle cx="656.9" cy="143.4" r="0.99" fill="#1a0a0a" fill-opacity="0.59"/><circle cx="651.4" cy="134.1" r="0.63" fill="#1a0a0a" fill-opacity="0.69"/><circle cx="695.1" cy="174.4" r="0.84" fill="#1a0a0a" fill-opacity="0.47"/><circle cx="657.4" cy="135.5" r="0.52" fill="#1a0a0a" fill-opacity="0.46"/><circle cx="647.1" cy="125.0" r="0.64" fill="#1a0a0a" fill-opacity="0.62"/><circle cx="688.7" cy="160.2" r="0.68" fill="#1a0a0a" fill-opacity="0.36"/><circle cx="683.0" cy="163.0" r="0.64" fill="#1a0a0a" fill-opacity="0.60"/><circle cx="702.2" cy="175.1" r="0.85" fill="#1a0a0a" fill-opacity="0.47"/><circle cx="659.4" cy="142.7" r="0.83" fill="#1a0a0a" fill-opacity="0.65"/><circle cx="693.8" cy="170.1" r="0.81" fill="#1a0a0a" fill-opacity="0.56"/><circle cx="673.6" cy="142.4" r="0.59" fill="#1a0a0a" fill-opacity="0.55"/><circle cx="651.2" cy="122.0" r="0.83" fill="#1a0a0a" fill-opacity="0.55"/><circle cx="660.8" cy="145.8" r="0.65" fill="#1a0a0a" fill-opacity="0.48"/><circle cx="684.2" cy="156.6" r="0.96" fill="#1a0a0a" fill-opacity="0.37"/><circle cx="686.2" cy="171.1" r="0.87" fill="#1a0a0a" fill-opacity="0.46"/><circle cx="675.9" cy="157.5" r="0.73" fill="#1a0a0a" fill-opacity="0.36"/><circle cx="694.3" cy="174.0" r="0.96" fill="#1a0a0a" fill-opacity="0.51"/><circle cx="651.4" cy="124.7" r="0.83" fill="#1a0a0a" fill-opacity="0.50"/><circle cx="685.3" cy="161.9" r="0.90" fill="#1a0a0a" fill-opacity="0.51"/><circle cx="670.9" cy="154.8" r="0.81" fill="#1a0a0a" fill-opacity="0.46"/><circle cx="693.1" cy="171.7" r="0.47" fill="#1a0a0a" fill-opacity="0.69"/><circle cx="667.4" cy="151.9" r="0.64" fill="#1a0a0a" fill-opacity="0.31"/><circle cx="671.4" cy="153.0" r="0.65" fill="#1a0a0a" fill-opacity="0.58"/><circle cx="667.2" cy="146.8" r="0.84" fill="#1a0a0a" fill-opacity="0.68"/><circle cx="678.2" cy="162.5" r="0.53" fill="#1a0a0a" fill-opacity="0.62"/><circle cx="669.7" cy="150.4" r="0.87" fill="#1a0a0a" fill-opacity="0.62"/><circle cx="685.0" cy="168.0" r="0.68" fill="#1a0a0a" fill-opacity="0.52"/><circle cx="659.2" cy="144.7" r="0.78" fill="#1a0a0a" fill-opacity="0.63"/><circle cx="696.4" cy="175.2" r="0.68" fill="#1a0a0a" fill-opacity="0.42"/><circle cx="679.5" cy="167.6" r="0.61" fill="#1a0a0a" fill-opacity="0.64"/><circle cx="661.8" cy="149.9" r="0.63" fill="#1a0a0a" fill-opacity="0.40"/><circle cx="671.8" cy="152.0" r="0.83" fill="#1a0a0a" fill-opacity="0.41"/><circle cx="660.4" cy="140.8" r="0.58" fill="#1a0a0a" fill-opacity="0.49"/><circle cx="672.0" cy="146.3" r="0.62" fill="#1a0a0a" fill-opacity="0.67"/><circle cx="698.8" cy="172.1" r="0.43" fill="#1a0a0a" fill-opacity="0.63"/><circle cx="702.1" cy="182.8" r="0.90" fill="#1a0a0a" fill-opacity="0.55"/><circle cx="645.9" cy="122.7" r="0.41" fill="#1a0a0a" fill-opacity="0.68"/><circle cx="686.3" cy="166.3" r="0.49" fill="#1a0a0a" fill-opacity="0.39"/><circle cx="693.9" cy="176.7" r="0.61" fill="#1a0a0a" fill-opacity="0.36"/><circle cx="702.0" cy="182.9" r="0.93" fill="#1a0a0a" fill-opacity="0.54"/><circle cx="694.2" cy="170.7" r="0.80" fill="#1a0a0a" fill-opacity="0.66"/><circle cx="694.6" cy="176.8" r="0.82" fill="#1a0a0a" fill-opacity="0.51"/><circle cx="691.7" cy="168.4" r="0.66" fill="#1a0a0a" fill-opacity="0.65"/><circle cx="680.0" cy="159.6" r="0.48" fill="#1a0a0a" fill-opacity="0.50"/><circle cx="648.7" cy="133.0" r="0.68" fill="#1a0a0a" fill-opacity="0.36"/><circle cx="676.0" cy="148.5" r="0.92" fill="#1a0a0a" fill-opacity="0.30"/><circle cx="698.0" cy="178.1" r="0.68" fill="#1a0a0a" fill-opacity="0.53"/><circle cx="686.9" cy="170.0" r="0.65" fill="#1a0a0a" fill-opacity="0.68"/><circle cx="649.7" cy="124.8" r="0.78" fill="#1a0a0a" fill-opacity="0.55"/><circle cx="646.8" cy="119.8" r="0.96" fill="#1a0a0a" fill-opacity="0.43"/><circle cx="706.8" cy="181.1" r="0.71" fill="#1a0a0a" fill-opacity="0.49"/><circle cx="701.5" cy="190.9" r="0.78" fill="#1a0a0a" fill-opacity="0.44"/><circle cx="699.3" cy="181.3" r="0.62" fill="#1a0a0a" fill-opacity="0.49"/><circle cx="678.1" cy="158.6" r="0.66" fill="#1a0a0a" fill-opacity="0.47"/><circle cx="679.9" cy="155.8" r="0.90" fill="#1a0a0a" fill-opacity="0.42"/><circle cx="697.1" cy="171.3" r="0.56" fill="#1a0a0a" fill-opacity="0.50"/><circle cx="706.4" cy="190.5" r="0.79" fill="#1a0a0a" fill-opacity="0.62"/><circle cx="665.8" cy="143.8" r="0.75" fill="#1a0a0a" fill-opacity="0.55"/><circle cx="694.4" cy="179.0" r="0.42" fill="#1a0a0a" fill-opacity="0.59"/><circle cx="700.8" cy="179.0" r="0.58" fill="#1a0a0a" fill-opacity="0.30"/><circle cx="657.0" cy="136.4" r="0.95" fill="#1a0a0a" fill-opacity="0.54"/><circle cx="686.5" cy="169.7" r="0.77" fill="#1a0a0a" fill-opacity="0.55"/><circle cx="684.5" cy="151.7" r="0.82" fill="#1a0a0a" fill-opacity="0.54"/><circle cx="687.9" cy="170.0" r="0.67" fill="#1a0a0a" fill-opacity="0.61"/><circle cx="651.4" cy="140.0" r="0.51" fill="#1a0a0a" fill-opacity="0.31"/><circle cx="693.8" cy="181.3" r="0.62" fill="#1a0a0a" fill-opacity="0.63"/><circle cx="694.6" cy="170.0" r="0.74" fill="#1a0a0a" fill-opacity="0.40"/><circle cx="664.0" cy="139.4" r="0.66" fill="#1a0a0a" fill-opacity="0.56"/><circle cx="703.8" cy="186.3" r="0.43" fill="#1a0a0a" fill-opacity="0.53"/><circle cx="647.5" cy="135.5" r="0.75" fill="#1a0a0a" fill-opacity="0.67"/><circle cx="673.1" cy="160.6" r="0.41" fill="#1a0a0a" fill-opacity="0.45"/><circle cx="682.3" cy="177.9" r="0.69" fill="#1a0a0a" fill-opacity="0.46"/><circle cx="651.4" cy="125.0" r="0.79" fill="#1a0a0a" fill-opacity="0.38"/><circle cx="374.6" cy="98.6" r="0.50" fill="#1a0a0a" fill-opacity="0.57"/><circle cx="363.8" cy="322.1" r="0.55" fill="#1a0a0a" fill-opacity="0.65"/><circle cx="366.4" cy="99.2" r="0.93" fill="#1a0a0a" fill-opacity="0.40"/><circle cx="584.1" cy="139.0" r="0.53" fill="#1a0a0a" fill-opacity="0.61"/><circle cx="576.9" cy="296.0" r="0.94" fill="#1a0a0a" fill-opacity="0.33"/><circle cx="546.3" cy="261.7" r="0.78" fill="#1a0a0a" fill-opacity="0.67"/><circle cx="411.5" cy="321.6" r="0.93" fill="#1a0a0a" fill-opacity="0.30"/><circle cx="325.3" cy="247.9" r="0.99" fill="#1a0a0a" fill-opacity="0.33"/><circle cx="432.0" cy="266.4" r="0.60" fill="#1a0a0a" fill-opacity="0.64"/><circle cx="495.1" cy="109.0" r="0.72" fill="#1a0a0a" fill-opacity="0.53"/><circle cx="477.9" cy="254.1" r="0.59" fill="#1a0a0a" fill-opacity="0.62"/><circle cx="450.8" cy="246.5" r="0.88" fill="#1a0a0a" fill-opacity="0.47"/><circle cx="458.9" cy="279.8" r="1.07" fill="#1a0a0a" fill-opacity="0.61"/><circle cx="524.1" cy="163.7" r="0.54" fill="#1a0a0a" fill-opacity="0.69"/><circle cx="573.2" cy="289.4" r="0.70" fill="#1a0a0a" fill-opacity="0.54"/><circle cx="671.9" cy="290.4" r="0.86" fill="#1a0a0a" fill-opacity="0.42"/><circle cx="474.3" cy="303.7" r="0.73" fill="#1a0a0a" fill-opacity="0.57"/><circle cx="536.6" cy="305.6" r="0.98" fill="#1a0a0a" fill-opacity="0.41"/><circle cx="320.6" cy="156.8" r="0.75" fill="#1a0a0a" fill-opacity="0.53"/><circle cx="613.8" cy="303.5" r="0.53" fill="#1a0a0a" fill-opacity="0.63"/><circle cx="612.2" cy="298.8" r="0.84" fill="#1a0a0a" fill-opacity="0.41"/><circle cx="626.4" cy="284.7" r="0.91" fill="#1a0a0a" fill-opacity="0.67"/><circle cx="444.9" cy="115.0" r="0.83" fill="#1a0a0a" fill-opacity="0.62"/><circle cx="392.2" cy="271.3" r="1.06" fill="#1a0a0a" fill-opacity="0.39"/><circle cx="538.5" cy="254.3" r="0.78" fill="#1a0a0a" fill-opacity="0.38"/><circle cx="411.7" cy="271.5" r="0.97" fill="#1a0a0a" fill-opacity="0.48"/><circle cx="351.6" cy="284.5" r="0.96" fill="#1a0a0a" fill-opacity="0.39"/><circle cx="528.7" cy="305.8" r="1.03" fill="#1a0a0a" fill-opacity="0.51"/><circle cx="491.6" cy="233.5" r="0.61" fill="#1a0a0a" fill-opacity="0.38"/><circle cx="385.0" cy="259.8" r="0.72" fill="#1a0a0a" fill-opacity="0.53"/></g>
<ellipse cx="436.7" cy="166.1" rx="14.3" ry="16.7" fill="#0d1923"/>
<ellipse cx="551.9" cy="166.1" rx="14.3" ry="16.7" fill="#0d1923"/>
<text x="175.69" y="227.90" font-size="12" font-weight="normal" fill="#3d3d3d" textLength="60.08" lengthAdjust="spacingAndGlyphs">$3,500</text>
<line x1="177" y1="237.5" x2="259" y2="237.5" stroke="#a8a8a8" stroke-width="1.2"/>
<text x="177.22" y="256.60" font-size="12" font-weight="normal" fill="#3d3d3d" textLength="65.16" lengthAdjust="spacingAndGlyphs">Average</text>
<text x="176.04" y="269.70" font-size="12" font-weight="normal" fill="#3d3d3d" textLength="63.69" lengthAdjust="spacingAndGlyphs">monthly</text>
<text x="177.28" y="282.80" font-size="12" font-weight="normal" fill="#3d3d3d" textLength="51.37" lengthAdjust="spacingAndGlyphs">wages</text>
<text x="177.29" y="346.70" font-size="12" font-weight="normal" fill="#3d3d3d" textLength="60.18" lengthAdjust="spacingAndGlyphs">$3,000</text>
<line x1="177" y1="353.5" x2="261" y2="353.5" stroke="#a8a8a8" stroke-width="1.2"/>
<text x="275.96" y="381.00" font-size="12" font-weight="normal" fill="#3d3d3d" textLength="67.93" lengthAdjust="spacingAndGlyphs">Q3 1990</text>
<text x="683.74" y="381.75" font-size="12" font-weight="normal" fill="#3d3d3d" textLength="69.45" lengthAdjust="spacingAndGlyphs">Q3 2013</text>
<path d="M60.5 112.5 V397.5 M809.5 112.5 V397.5 M54 397.5 H816.5 M54 112.5 H60.5 M809.5 112.5 H816.5 M54 148.1 H60.5 M809.5 148.1 H816.5 M54 183.7 H60.5 M809.5 183.7 H816.5 M54 219.3 H60.5 M809.5 219.3 H816.5 M54 254.9 H60.5 M809.5 254.9 H816.5 M54 290.5 H60.5 M809.5 290.5 H816.5 M54 326.1 H60.5 M809.5 326.1 H816.5 M54 361.7 H60.5 M809.5 361.7 H816.5 M54 397.3 H60.5 M809.5 397.3 H816.5 M60.4 397.5 V401.5 M133.6 397.5 V401.5 M199.8 397.5 V401.5 M273.1 397.5 V401.5 M343.9 397.5 V401.5 M417.2 397.5 V401.5 M488.1 397.5 V401.5 M561.3 397.5 V401.5 M634.6 397.5 V401.5 M705.4 397.5 V401.5 M778.7 397.5 V401.5" stroke="#8a8a8a" stroke-width="1" fill="none"/>
<path d="M11.40 107.40 L15.60 103.30 L19.00 103.30 L19.00 119.10 L15.60 119.10 L15.60 107.70 L13.10 110.30 Z" fill="#0470c0"/><path d="M20.80 107.40 L24.80 103.30 L28.20 103.30 L28.20 119.10 L24.80 119.10 L24.80 107.70 L22.50 110.30 Z" fill="#0470c0"/><text x="30.26" y="118.80" font-size="21.3" fill="#0470c0" stroke="#0470c0" stroke-width="0.90" textLength="13.08" lengthAdjust="spacingAndGlyphs">6</text>
<path d="M11.40 143.00 L15.60 138.90 L19.00 138.90 L19.00 154.70 L15.60 154.70 L15.60 143.30 L13.10 145.90 Z" fill="#0470c0"/><path d="M20.80 143.00 L24.80 138.90 L28.20 138.90 L28.20 154.70 L24.80 154.70 L24.80 143.30 L22.50 145.90 Z" fill="#0470c0"/><text x="30.96" y="154.40" font-size="21.3" fill="#0470c0" stroke="#0470c0" stroke-width="0.90" textLength="11.97" lengthAdjust="spacingAndGlyphs">4</text>
<path d="M11.40 178.60 L15.60 174.50 L19.00 174.50 L19.00 190.30 L15.60 190.30 L15.60 178.90 L13.10 181.50 Z" fill="#0470c0"/><path d="M20.80 178.60 L24.80 174.50 L28.20 174.50 L28.20 190.30 L24.80 190.30 L24.80 178.90 L22.50 181.50 Z" fill="#0470c0"/><text x="30.25" y="190.00" font-size="21.3" fill="#0470c0" stroke="#0470c0" stroke-width="0.90" textLength="13.25" lengthAdjust="spacingAndGlyphs">2</text>
<path d="M11.40 214.20 L15.60 210.10 L19.00 210.10 L19.00 225.90 L15.60 225.90 L15.60 214.50 L13.10 217.10 Z" fill="#0470c0"/><path d="M20.80 214.20 L24.80 210.10 L28.20 210.10 L28.20 225.90 L24.80 225.90 L24.80 214.50 L22.50 217.10 Z" fill="#0470c0"/><text x="30.56" y="225.60" font-size="21.3" fill="#0470c0" stroke="#0470c0" stroke-width="0.90" textLength="12.62" lengthAdjust="spacingAndGlyphs">0</text>
<path d="M6.70 249.80 L10.80 245.70 L14.20 245.70 L14.20 261.50 L10.80 261.50 L10.80 250.10 L8.40 252.70 Z" fill="#0470c0"/><text x="15.56" y="261.20" font-size="21.3" fill="#0470c0" stroke="#0470c0" stroke-width="0.90" textLength="12.68" lengthAdjust="spacingAndGlyphs">0</text><text x="29.64" y="261.20" font-size="21.3" fill="#0470c0" stroke="#0470c0" stroke-width="0.90" textLength="12.92" lengthAdjust="spacingAndGlyphs">8</text>
<path d="M6.70 285.40 L10.80 281.30 L14.20 281.30 L14.20 297.10 L10.80 297.10 L10.80 285.70 L8.40 288.30 Z" fill="#0470c0"/><text x="15.56" y="296.80" font-size="21.3" fill="#0470c0" stroke="#0470c0" stroke-width="0.90" textLength="12.68" lengthAdjust="spacingAndGlyphs">0</text><text x="29.45" y="296.80" font-size="21.3" fill="#0470c0" stroke="#0470c0" stroke-width="0.90" textLength="13.14" lengthAdjust="spacingAndGlyphs">6</text>
<path d="M6.70 321.00 L10.80 316.90 L14.20 316.90 L14.20 332.70 L10.80 332.70 L10.80 321.30 L8.40 323.90 Z" fill="#0470c0"/><text x="15.56" y="332.40" font-size="21.3" fill="#0470c0" stroke="#0470c0" stroke-width="0.90" textLength="12.68" lengthAdjust="spacingAndGlyphs">0</text><text x="30.15" y="332.40" font-size="21.3" fill="#0470c0" stroke="#0470c0" stroke-width="0.90" textLength="12.03" lengthAdjust="spacingAndGlyphs">4</text>
<path d="M6.70 356.60 L10.80 352.50 L14.20 352.50 L14.20 368.30 L10.80 368.30 L10.80 356.90 L8.40 359.50 Z" fill="#0470c0"/><text x="15.56" y="368.00" font-size="21.3" fill="#0470c0" stroke="#0470c0" stroke-width="0.90" textLength="12.68" lengthAdjust="spacingAndGlyphs">0</text><text x="29.45" y="368.00" font-size="21.3" fill="#0470c0" stroke="#0470c0" stroke-width="0.90" textLength="13.31" lengthAdjust="spacingAndGlyphs">2</text>
<path d="M6.70 392.20 L10.80 388.10 L14.20 388.10 L14.20 403.90 L10.80 403.90 L10.80 392.50 L8.40 395.10 Z" fill="#0470c0"/><text x="15.56" y="403.60" font-size="21.3" fill="#0470c0" stroke="#0470c0" stroke-width="0.90" textLength="12.68" lengthAdjust="spacingAndGlyphs">0</text><text x="29.76" y="403.60" font-size="21.3" fill="#0470c0" stroke="#0470c0" stroke-width="0.90" textLength="12.68" lengthAdjust="spacingAndGlyphs">0</text>
<path d="M827.60 107.40 L831.50 103.30 L834.90 103.30 L834.90 119.10 L831.50 119.10 L831.50 107.70 L829.30 110.30 Z" fill="#02ad4e"/><text x="835.75" y="118.80" font-size="21.3" fill="#02ad4e" stroke="#02ad4e" stroke-width="0.90" textLength="12.97" lengthAdjust="spacingAndGlyphs">7</text><text x="848.07" y="118.80" font-size="21.3" fill="#02ad4e" stroke="#02ad4e" stroke-width="0.90" textLength="7.36" lengthAdjust="spacingAndGlyphs">,</text><text x="855.57" y="118.80" font-size="21.3" fill="#02ad4e" stroke="#02ad4e" stroke-width="0.90" textLength="10.79" lengthAdjust="spacingAndGlyphs">5</text><text x="868.57" y="118.80" font-size="21.3" fill="#02ad4e" stroke="#02ad4e" stroke-width="0.90" textLength="12.57" lengthAdjust="spacingAndGlyphs">0</text><text x="882.44" y="118.80" font-size="21.3" fill="#02ad4e" stroke="#02ad4e" stroke-width="0.90" textLength="12.91" lengthAdjust="spacingAndGlyphs">0</text>
<path d="M827.60 143.00 L831.50 138.90 L834.90 138.90 L834.90 154.70 L831.50 154.70 L831.50 143.30 L829.30 145.90 Z" fill="#02ad4e"/><text x="835.75" y="154.40" font-size="21.3" fill="#02ad4e" stroke="#02ad4e" stroke-width="0.90" textLength="12.97" lengthAdjust="spacingAndGlyphs">7</text><text x="848.07" y="154.40" font-size="21.3" fill="#02ad4e" stroke="#02ad4e" stroke-width="0.90" textLength="7.36" lengthAdjust="spacingAndGlyphs">,</text><text x="855.60" y="154.40" font-size="21.3" fill="#02ad4e" stroke="#02ad4e" stroke-width="0.90" textLength="10.70" lengthAdjust="spacingAndGlyphs">0</text><text x="868.57" y="154.40" font-size="21.3" fill="#02ad4e" stroke="#02ad4e" stroke-width="0.90" textLength="12.57" lengthAdjust="spacingAndGlyphs">0</text><text x="882.44" y="154.40" font-size="21.3" fill="#02ad4e" stroke="#02ad4e" stroke-width="0.90" textLength="12.91" lengthAdjust="spacingAndGlyphs">0</text>
<path d="M827.60 178.60 L831.50 174.50 L834.90 174.50 L834.90 190.30 L831.50 190.30 L831.50 178.90 L829.30 181.50 Z" fill="#02ad4e"/><text x="835.78" y="190.00" font-size="21.3" fill="#02ad4e" stroke="#02ad4e" stroke-width="0.90" textLength="12.78" lengthAdjust="spacingAndGlyphs">6</text><text x="848.07" y="190.00" font-size="21.3" fill="#02ad4e" stroke="#02ad4e" stroke-width="0.90" textLength="7.36" lengthAdjust="spacingAndGlyphs">,</text><text x="855.57" y="190.00" font-size="21.3" fill="#02ad4e" stroke="#02ad4e" stroke-width="0.90" textLength="10.79" lengthAdjust="spacingAndGlyphs">5</text><text x="868.57" y="190.00" font-size="21.3" fill="#02ad4e" stroke="#02ad4e" stroke-width="0.90" textLength="12.57" lengthAdjust="spacingAndGlyphs">0</text><text x="882.44" y="190.00" font-size="21.3" fill="#02ad4e" stroke="#02ad4e" stroke-width="0.90" textLength="12.91" lengthAdjust="spacingAndGlyphs">0</text>
<path d="M827.60 214.20 L831.50 210.10 L834.90 210.10 L834.90 225.90 L831.50 225.90 L831.50 214.50 L829.30 217.10 Z" fill="#02ad4e"/><text x="835.78" y="225.60" font-size="21.3" fill="#02ad4e" stroke="#02ad4e" stroke-width="0.90" textLength="12.78" lengthAdjust="spacingAndGlyphs">6</text><text x="848.07" y="225.60" font-size="21.3" fill="#02ad4e" stroke="#02ad4e" stroke-width="0.90" textLength="7.36" lengthAdjust="spacingAndGlyphs">,</text><text x="855.60" y="225.60" font-size="21.3" fill="#02ad4e" stroke="#02ad4e" stroke-width="0.90" textLength="10.70" lengthAdjust="spacingAndGlyphs">0</text><text x="868.57" y="225.60" font-size="21.3" fill="#02ad4e" stroke="#02ad4e" stroke-width="0.90" textLength="12.57" lengthAdjust="spacingAndGlyphs">0</text><text x="882.44" y="225.60" font-size="21.3" fill="#02ad4e" stroke="#02ad4e" stroke-width="0.90" textLength="12.91" lengthAdjust="spacingAndGlyphs">0</text>
<path d="M827.60 249.80 L831.50 245.70 L834.90 245.70 L834.90 261.50 L831.50 261.50 L831.50 250.10 L829.30 252.70 Z" fill="#02ad4e"/><text x="836.05" y="261.20" font-size="21.3" fill="#02ad4e" stroke="#02ad4e" stroke-width="0.90" textLength="12.43" lengthAdjust="spacingAndGlyphs">5</text><text x="848.07" y="261.20" font-size="21.3" fill="#02ad4e" stroke="#02ad4e" stroke-width="0.90" textLength="7.36" lengthAdjust="spacingAndGlyphs">,</text><text x="855.57" y="261.20" font-size="21.3" fill="#02ad4e" stroke="#02ad4e" stroke-width="0.90" textLength="10.79" lengthAdjust="spacingAndGlyphs">5</text><text x="868.57" y="261.20" font-size="21.3" fill="#02ad4e" stroke="#02ad4e" stroke-width="0.90" textLength="12.57" lengthAdjust="spacingAndGlyphs">0</text><text x="882.44" y="261.20" font-size="21.3" fill="#02ad4e" stroke="#02ad4e" stroke-width="0.90" textLength="12.91" lengthAdjust="spacingAndGlyphs">0</text>
<path d="M827.60 285.40 L831.50 281.30 L834.90 281.30 L834.90 297.10 L831.50 297.10 L831.50 285.70 L829.30 288.30 Z" fill="#02ad4e"/><text x="836.05" y="296.80" font-size="21.3" fill="#02ad4e" stroke="#02ad4e" stroke-width="0.90" textLength="12.43" lengthAdjust="spacingAndGlyphs">5</text><text x="848.07" y="296.80" font-size="21.3" fill="#02ad4e" stroke="#02ad4e" stroke-width="0.90" textLength="7.36" lengthAdjust="spacingAndGlyphs">,</text><text x="855.60" y="296.80" font-size="21.3" fill="#02ad4e" stroke="#02ad4e" stroke-width="0.90" textLength="10.70" lengthAdjust="spacingAndGlyphs">0</text><text x="868.57" y="296.80" font-size="21.3" fill="#02ad4e" stroke="#02ad4e" stroke-width="0.90" textLength="12.57" lengthAdjust="spacingAndGlyphs">0</text><text x="882.44" y="296.80" font-size="21.3" fill="#02ad4e" stroke="#02ad4e" stroke-width="0.90" textLength="12.91" lengthAdjust="spacingAndGlyphs">0</text>
<path d="M827.60 321.00 L831.50 316.90 L834.90 316.90 L834.90 332.70 L831.50 332.70 L831.50 321.30 L829.30 323.90 Z" fill="#02ad4e"/><text x="836.47" y="332.40" font-size="21.3" fill="#02ad4e" stroke="#02ad4e" stroke-width="0.90" textLength="11.70" lengthAdjust="spacingAndGlyphs">4</text><text x="848.07" y="332.40" font-size="21.3" fill="#02ad4e" stroke="#02ad4e" stroke-width="0.90" textLength="7.36" lengthAdjust="spacingAndGlyphs">,</text><text x="855.57" y="332.40" font-size="21.3" fill="#02ad4e" stroke="#02ad4e" stroke-width="0.90" textLength="10.79" lengthAdjust="spacingAndGlyphs">5</text><text x="868.57" y="332.40" font-size="21.3" fill="#02ad4e" stroke="#02ad4e" stroke-width="0.90" textLength="12.57" lengthAdjust="spacingAndGlyphs">0</text><text x="882.44" y="332.40" font-size="21.3" fill="#02ad4e" stroke="#02ad4e" stroke-width="0.90" textLength="12.91" lengthAdjust="spacingAndGlyphs">0</text>
<path d="M827.60 356.60 L831.50 352.50 L834.90 352.50 L834.90 368.30 L831.50 368.30 L831.50 356.90 L829.30 359.50 Z" fill="#02ad4e"/><text x="836.47" y="368.00" font-size="21.3" fill="#02ad4e" stroke="#02ad4e" stroke-width="0.90" textLength="11.70" lengthAdjust="spacingAndGlyphs">4</text><text x="848.07" y="368.00" font-size="21.3" fill="#02ad4e" stroke="#02ad4e" stroke-width="0.90" textLength="7.36" lengthAdjust="spacingAndGlyphs">,</text><text x="855.60" y="368.00" font-size="21.3" fill="#02ad4e" stroke="#02ad4e" stroke-width="0.90" textLength="10.70" lengthAdjust="spacingAndGlyphs">0</text><text x="868.57" y="368.00" font-size="21.3" fill="#02ad4e" stroke="#02ad4e" stroke-width="0.90" textLength="12.57" lengthAdjust="spacingAndGlyphs">0</text><text x="882.44" y="368.00" font-size="21.3" fill="#02ad4e" stroke="#02ad4e" stroke-width="0.90" textLength="12.91" lengthAdjust="spacingAndGlyphs">0</text>
<path d="M827.60 392.20 L831.50 388.10 L834.90 388.10 L834.90 403.90 L831.50 403.90 L831.50 392.50 L829.30 395.10 Z" fill="#02ad4e"/><text x="836.10" y="403.60" font-size="21.3" fill="#02ad4e" stroke="#02ad4e" stroke-width="0.90" textLength="12.43" lengthAdjust="spacingAndGlyphs">3</text><text x="848.07" y="403.60" font-size="21.3" fill="#02ad4e" stroke="#02ad4e" stroke-width="0.90" textLength="7.36" lengthAdjust="spacingAndGlyphs">,</text><text x="855.57" y="403.60" font-size="21.3" fill="#02ad4e" stroke="#02ad4e" stroke-width="0.90" textLength="10.79" lengthAdjust="spacingAndGlyphs">5</text><text x="868.57" y="403.60" font-size="21.3" fill="#02ad4e" stroke="#02ad4e" stroke-width="0.90" textLength="12.57" lengthAdjust="spacingAndGlyphs">0</text><text x="882.44" y="403.60" font-size="21.3" fill="#02ad4e" stroke="#02ad4e" stroke-width="0.90" textLength="12.91" lengthAdjust="spacingAndGlyphs">0</text>
<text x="63.6" y="413.5" font-size="14" font-weight="bold" fill="#111" text-anchor="end" transform="rotate(-45 63.6 413.5)">Jan-14</text>
<text x="136.8" y="413.5" font-size="14" font-weight="bold" fill="#111" text-anchor="end" transform="rotate(-45 136.8 413.5)">Feb-14</text>
<text x="203.0" y="413.5" font-size="14" font-weight="bold" fill="#111" text-anchor="end" transform="rotate(-45 203.0 413.5)">Mar-14</text>
<text x="276.3" y="413.5" font-size="14" font-weight="bold" fill="#111" text-anchor="end" transform="rotate(-45 276.3 413.5)">Apr-14</text>
<text x="347.1" y="413.5" font-size="14" font-weight="bold" fill="#111" text-anchor="end" transform="rotate(-45 347.1 413.5)">May-14</text>
<text x="420.4" y="413.5" font-size="14" font-weight="bold" fill="#111" text-anchor="end" transform="rotate(-45 420.4 413.5)">Jun-14</text>
<text x="491.3" y="413.5" font-size="14" font-weight="bold" fill="#111" text-anchor="end" transform="rotate(-45 491.3 413.5)">Jul-14</text>
<text x="564.5" y="413.5" font-size="14" font-weight="bold" fill="#111" text-anchor="end" transform="rotate(-45 564.5 413.5)">Aug-14</text>
<text x="637.8" y="413.5" font-size="14" font-weight="bold" fill="#111" text-anchor="end" transform="rotate(-45 637.8 413.5)">Sep-14</text>
<text x="708.6" y="413.5" font-size="14" font-weight="bold" fill="#111" text-anchor="end" transform="rotate(-45 708.6 413.5)">Oct-14</text>
<text x="781.9" y="413.5" font-size="14" font-weight="bold" fill="#111" text-anchor="end" transform="rotate(-45 781.9 413.5)">Nov-14</text>
<text x="25.94" y="469.80" font-size="9.7" font-weight="normal" fill="#000" textLength="182.76" lengthAdjust="spacingAndGlyphs">DATA SOURCE: HEDGEYE, BLOOMBERG</text>
<clipPath id="cp"><rect x="60.5" y="60" width="838" height="420"/></clipPath><g clip-path="url(#cp)">
<path d="M275.5 305.5 L282.5 293.0 L291.2 273.4 L300.0 262.5 L313.1 252.6 L332.8 251.5 L354.6 258.1 L367.7 249.3 L385.0 238.8 L405.0 227.0 L412.5 223.8 L418.0 226.0 L430.0 240.0 L450.0 262.5 L460.0 261.5 L471.7 259.5 L481.0 262.5 L491.0 268.5 L505.0 290.0 L515.0 295.5 L530.0 301.5 L545.0 310.5 L552.0 314.8 L587.0 314.0 L607.0 322.5 L630.0 323.0 L637.0 330.0 L646.0 349.5 L652.0 351.0 L666.0 347.5 L687.5 347.5 L706.4 354.0 L728.3 358.4" stroke="#0d1923" stroke-width="10" fill="none" stroke-linecap="round" stroke-linejoin="round"/>
<path d="M60.2 301.9 L62.9 311.2 L65.4 310.2 L70.6 310.2 L73.8 322.7 L78.3 310.2 L81.0 312.3 L83.1 322.7 L87.3 322.7 L90.0 343.5 L94.2 317.0 L97.7 320.6 L104.0 320.6 L107.1 322.7 L111.7 316.5 L115.4 356.0 L120.6 356.7 L125.8 344.6 L127.9 356.0 L130.0 347.7 L133.1 360.2 L136.5 359.4 L139.4 379.8 L142.3 363.8 L145.2 371.8 L148.1 357.2 L151.0 355.7 L156.1 358.0 L159.1 350.6 L162.7 355.0 L167.1 365.2 L171.5 364.5 L175.8 355.0 L180.0 355.8 L185.0 351.7 L190.0 352.5 L193.3 355.0 L198.3 364.2 L202.5 365.8 L205.2 371.8 L208.5 358.0 L211.0 356.0 L213.5 341.5 L217.8 337.8 L222.5 338.5 L226.7 345.0 L230.0 371.7 L233.3 373.3 L236.7 373.3 L238.3 365.0 L241.5 371.0 L245.0 355.0 L250.0 355.8 L258.5 356.5 L261.0 360.0 L265.0 347.0 L270.0 342.0 L275.0 330.0 L279.0 327.5 L282.5 338.8 L287.5 340.0 L291.2 362.5 L295.0 368.5 L302.5 368.4 L311.9 354.4 L319.4 352.5 L322.2 349.7 L325.9 351.6 L330.6 358.1 L334.4 356.2 L340.0 349.7 L342.8 356.2 L346.6 355.3 L350.3 357.2 L355.0 359.0 L358.8 367.5 L362.5 365.6 L367.2 362.8 L370.0 360.0 L372.8 357.2 L377.5 368.4 L382.2 370.3 L387.5 370.0 L391.2 373.8 L396.2 363.8 L400.0 361.2 L406.2 361.2 L411.2 365.0 L417.5 363.8 L421.2 352.5 L425.0 347.5 L428.8 353.8 L437.5 352.5 L445.0 366.2 L448.8 358.8 L453.8 363.8 L457.5 358.8 L460.0 363.0 L464.4 360.1 L468.8 362.3 L474.6 363.8 L479.0 371.0 L483.3 371.8 L487.7 374.0 L491.4 365.2 L495.0 357.9 L499.4 360.1 L502.3 361.6 L505.2 368.1 L508.1 368.1 L511.0 373.2 L517.6 374.0 L522.7 367.4 L525.6 370.3 L527.8 376.1 L530.0 373.2 L535.8 372.5 L541.7 369.6 L544.6 363.8 L550.0 362.3 L553.4 363.1 L557.2 348.1 L560.0 346.2 L563.8 349.1 L568.4 349.6 L572.2 350.0 L574.1 359.4 L577.8 360.3 L583.4 360.9 L588.1 357.5 L593.8 352.8 L600.3 354.7 L605.0 344.4 L607.8 330.3 L611.6 326.6 L619.1 324.7 L621.9 323.8 L625.6 331.0 L629.4 323.0 L633.1 322.0 L636.0 314.0 L638.8 307.5 L643.8 303.8 L647.5 307.5 L651.2 292.5 L653.8 287.5 L657.5 275.0 L661.2 266.2 L666.2 266.2 L669.0 268.0 L672.2 247.5 L677.8 236.2 L683.4 235.3 L685.3 240.0 L690.0 239.1 L692.8 240.9 L695.6 231.6 L700.3 230.6 L703.7 225.5 L706.7 240.0 L710.0 247.5 L712.5 223.3 L716.7 223.3 L718.3 237.5 L720.8 254.2 L724.2 255.8 L727.5 259.2 L732.5 260.8 L734.2 265.0 L738.3 272.5 L741.2 285.0 L744.1 274.4 L747.8 273.4 L754.4 270.6 L757.5 250.0 L760.0 249.5 L762.2 251.0 L766.9 252.8 L768.8 257.5 L773.4 237.8 L776.2 178.8 L780.8 178.3 L783.3 148.3 L785.8 147.5 L790.8 126.7 L794.2 134.2 L795.0 137.5 L799.2 137.5 L803.3 116.7 L805.8 118.3 L807.5 117.5" stroke="#0070c0" stroke-width="5" fill="none" stroke-linecap="round" stroke-linejoin="round"/>
<path d="M60.2 198.5 L70.6 198.5 L73.8 226.7 L74.8 231.9 L77.9 211.0 L80.0 227.7 L82.0 224.6 L89.4 224.6 L92.1 259.0 L94.6 232.9 L97.7 238.0 L104.0 238.0 L106.0 244.4 L108.8 234.0 L111.7 232.9 L115.4 262.0 L120.6 262.0 L123.8 289.0 L126.9 263.0 L130.0 290.0 L132.0 295.6 L137.3 296.7 L141.6 362.0 L145.5 332.0 L148.5 328.0 L152.7 328.0 L155.8 310.4 L160.0 304.6 L166.2 337.5 L170.8 337.5 L175.6 301.0 L179.2 329.2 L182.5 301.0 L188.1 301.0 L191.2 286.5 L195.4 294.8 L198.5 300.0 L202.7 301.0 L205.8 315.6 L209.0 310.4 L214.2 272.0 L216.0 269.0 L221.5 269.0 L223.0 272.5 L225.5 273.5 L227.5 302.5 L230.0 303.8 L231.2 340.0 L237.5 341.2 L242.5 328.8 L245.0 343.8 L252.5 343.8 L255.0 328.8 L258.8 330.0 L262.5 315.0 L266.2 312.5 L271.2 311.2 L271.2 302.5 L275.0 301.2 L280.0 286.2 L286.2 286.2 L290.0 308.8 L293.8 341.2 L297.5 363.8 L303.8 365.0 L306.2 363.8 L309.1 331.0 L312.8 330.0 L314.7 323.4 L319.4 323.4 L323.1 333.8 L326.9 321.6 L328.8 332.8 L333.4 331.0 L336.2 331.9 L339.0 342.2 L341.9 341.2 L345.6 327.2 L349.4 328.1 L356.9 328.1 L359.7 360.0 L362.5 346.9 L370.0 345.9 L374.7 331.9 L378.4 337.5 L381.2 354.0 L387.5 360.0 L391.2 357.5 L395.0 332.5 L398.8 327.5 L402.5 327.5 L405.0 318.8 L410.0 312.5 L415.0 316.2 L418.8 316.2 L422.5 291.2 L426.2 283.8 L433.8 283.8 L437.5 281.2 L440.0 290.0 L442.5 285.0 L445.0 292.5 L447.5 283.8 L451.2 282.5 L453.8 295.0 L457.5 288.8 L460.0 270.0 L461.5 264.0 L468.8 264.0 L473.1 263.2 L475.3 269.0 L477.5 272.7 L481.9 282.2 L485.5 282.9 L489.2 268.3 L493.5 265.4 L496.5 259.6 L501.6 258.9 L505.9 266.9 L509.6 269.0 L514.0 277.1 L517.6 278.5 L522.7 261.8 L526.4 264.0 L530.0 274.9 L535.8 274.9 L538.8 266.9 L543.1 270.5 L546.0 258.1 L550.6 258.1 L553.4 252.5 L557.2 244.1 L560.9 246.9 L562.8 252.5 L567.5 253.4 L571.2 259.1 L574.1 273.1 L577.8 275.0 L579.7 306.0 L583.4 306.0 L586.2 283.4 L590.0 278.8 L593.8 268.4 L598.4 266.6 L603.1 265.6 L606.0 259.1 L608.8 248.8 L611.6 250.6 L615.3 252.5 L619.1 245.9 L621.9 253.4 L625.6 253.4 L629.4 260.0 L634.7 259.7 L638.4 240.0 L641.2 238.1 L644.1 240.9 L649.7 240.9 L655.3 234.4 L659.1 225.0 L662.8 222.2 L669.4 222.2 L673.1 227.8 L675.9 216.6 L677.8 196.9 L682.5 195.9 L685.3 204.4 L690.0 208.1 L692.4 192.2 L695.6 203.4 L700.3 203.4 L703.1 197.8 L705.9 206.2 L707.8 223.1 L709.5 245.0 L711.7 239.2 L715.8 240.8 L718.3 226.7 L722.5 235.0 L725.0 251.7 L729.2 269.2 L733.8 268.8 L736.6 294.0 L738.4 295.0 L744.1 322.2 L749.7 322.2 L751.6 282.8 L754.4 304.4 L757.2 278.1 L760.0 275.3 L762.8 268.8 L766.6 268.8 L770.3 264.0 L772.2 266.9 L774.4 248.1 L777.2 189.0 L784.7 189.0 L786.6 175.0 L787.5 156.7 L790.0 152.5 L792.5 161.7 L794.2 155.8 L800.0 155.8 L801.7 163.3 L803.3 138.3 L805.8 135.0 L808.3 118.3" stroke="#00b050" stroke-width="5" fill="none" stroke-linecap="round" stroke-linejoin="round"/>
</g>
<line x1="216.5" y1="100.5" x2="240.5" y2="100.5" stroke="#0070c0" stroke-width="5.3" stroke-linecap="round"/>
<text x="243.41" y="106.60" font-size="21.6" font-weight="normal" fill="#000" stroke="#000" stroke-width="1.00" textLength="97.17" lengthAdjust="spacingAndGlyphs">USD/YEN</text>
<line x1="445" y1="100.6" x2="468" y2="100.6" stroke="#00b050" stroke-width="5.3" stroke-linecap="round"/>
<text x="472.25" y="106.60" font-size="21.6" font-weight="normal" fill="#000" stroke="#000" stroke-width="1.00" textLength="227.20" lengthAdjust="spacingAndGlyphs">Japanese Nikkei Index</text>
</svg></body></html>
